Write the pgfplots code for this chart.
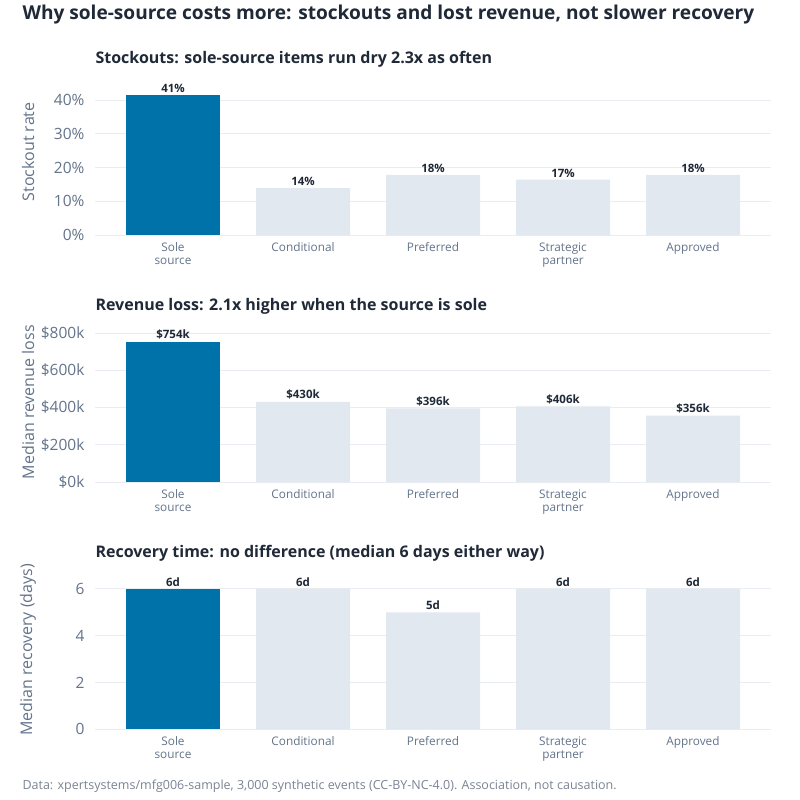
\documentclass[border=0pt]{standalone}
\usepackage{pgfplots}
\pgfplotsset{compat=1.18}
\usepackage{fontspec}
\setmainfont{Open Sans}
\definecolor{sole}{HTML}{0072AA}
\definecolor{other}{HTML}{E2E8F0}
\definecolor{titlec}{HTML}{1F2937}
\definecolor{tickc}{HTML}{64748B}
\definecolor{gridc}{HTML}{E9EDF2}
\definecolor{footc}{HTML}{7A8494}
\pgfplotsset{panel/.style={
  scale only axis, width=676pt, xmin=-0.6, xmax=4.6, ymin=0,
  axis line style={draw=none}, major tick length=0pt, tick style={draw=none},
  ymajorgrids, grid style={gridc, line width=0.9pt},
  xtick={0,1,2,3,4},
  xticklabels={{Sole\\source},{Conditional},{Preferred},{Strategic\\partner},{Approved}},
  xticklabel style={align=center, font=\fontsize{11.8}{13}\selectfont, text=tickc, anchor=north, yshift=-4pt},
  yticklabel style={font=\fontsize{15.5}{17}\selectfont, text=tickc, xshift=-7pt},
  ylabel style={font=\fontsize{16}{17}\selectfont, text=tickc, anchor=center},
  scaled y ticks=false,
  ybar, bar width=94pt, bar shift=0pt, clip=false,
  nodes near coords, point meta=explicit symbolic,
  every node near coord/.append style={font=\bfseries\fontsize{11.5}{12}\selectfont, text=titlec, yshift=-1pt},
}}
\begin{document}
\begin{tikzpicture}
\useasboundingbox (0pt,0pt) rectangle (800pt,-800pt);
\fill[white] (0pt,0pt) rectangle (800pt,-800pt);
\node[anchor=west, text=titlec, font=\bfseries\fontsize{19.1}{21}\selectfont] at (19pt,-15pt) {Why sole-source costs more: stockouts and lost revenue, not slower recovery};
% Panel 1
\node[anchor=west, text=titlec, font=\bfseries\fontsize{16}{17}\selectfont] at (92pt,-59pt) {Stockouts: sole-source items run dry 2.3x as often};
\begin{axis}[panel, at={(95pt,-235pt)}, anchor=south west, height=148.5pt, ymax=0.44,
  ytick={0,0.1,0.2,0.3,0.4}, yticklabels={0\%,10\%,20\%,30\%,40\%},
  ylabel={Stockout rate}, ylabel style={at={(axis description cs:-0.099,0.56)}}]
\addplot[fill=sole, draw=none] coordinates {(0,0.415) [41\%]};
\addplot[fill=other, draw=none] coordinates {(1,0.139) [14\%] (2,0.178) [18\%] (3,0.164) [17\%] (4,0.178) [18\%]};
\end{axis}
% Panel 2
\node[anchor=west, text=titlec, font=\bfseries\fontsize{16}{17}\selectfont] at (92pt,-306pt) {Revenue loss: 2.1x higher when the source is sole};
\begin{axis}[panel, at={(95pt,-482pt)}, anchor=south west, height=156.4pt, ymax=840,
  ytick={0,200,400,600,800}, yticklabels={\$0k,\$200k,\$400k,\$600k,\$800k},
  ylabel={Median revenue loss}, ylabel style={at={(axis description cs:-0.099,0.51)}}]
\addplot[fill=sole, draw=none] coordinates {(0,754) [\$754k]};
\addplot[fill=other, draw=none] coordinates {(1,430) [\$430k] (2,396) [\$396k] (3,406) [\$406k] (4,356) [\$356k]};
\end{axis}
% Panel 3
\node[anchor=west, text=titlec, font=\bfseries\fontsize{16}{17}\selectfont] at (92pt,-553pt) {Recovery time: no difference (median 6 days either way)};
\begin{axis}[panel, at={(95pt,-729.3pt)}, anchor=south west, height=149.8pt, ymax=6.4,
  ytick={0,2,4,6}, yticklabels={0,2,4,6},
  ylabel={Median recovery (days)}, ylabel style={at={(axis description cs:-0.099,0.53)}}]
\addplot[fill=sole, draw=none] coordinates {(0,6) [6d]};
\addplot[fill=other, draw=none] coordinates {(1,6) [6d] (2,5) [5d] (3,6) [6d] (4,6) [6d]};
\end{axis}
\node[anchor=west, text=footc, font=\fontsize{12.5}{13}\selectfont] at (19pt,-786pt) {Data: xpertsystems/mfg006-sample, 3,000 synthetic events (CC-BY-NC-4.0). Association, not causation.};
\end{tikzpicture}
\end{document}
